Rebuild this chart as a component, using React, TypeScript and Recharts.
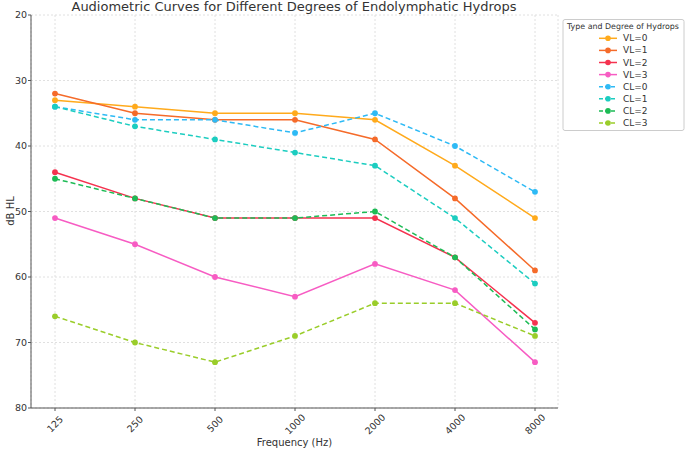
import { LineChart, Line, XAxis, YAxis, CartesianGrid } from "recharts";

const frequencies = ["125", "250", "500", "1000", "2000", "4000", "8000"];
const yTicks = [20, 30, 40, 50, 60, 70, 80];

const vl0 = [33, 34, 35, 35, 36, 43, 51];
const vl1 = [32, 35, 36, 36, 39, 48, 59];
const vl2 = [44, 48, 51, 51, 51, 57, 67];
const vl3 = [51, 55, 60, 63, 58, 62, 73];
const cl0 = [34, 36, 36, 38, 35, 40, 47];
const cl1 = [34, 37, 39, 41, 43, 51, 61];
const cl2 = [45, 48, 51, 51, 50, 57, 68];
const cl3 = [66, 70, 73, 69, 64, 64, 69];

const series = [
  { key: "VL=0", values: vl0, color: "#ffaa1c", dashed: false },
  { key: "VL=1", values: vl1, color: "#f56b2a", dashed: false },
  { key: "VL=2", values: vl2, color: "#f5324f", dashed: false },
  { key: "VL=3", values: vl3, color: "#f75cc3", dashed: false },
  { key: "CL=0", values: cl0, color: "#2ebaf5", dashed: true },
  { key: "CL=1", values: cl1, color: "#1ccdc0", dashed: true },
  { key: "CL=2", values: cl2, color: "#1dbb55", dashed: true },
  { key: "CL=3", values: cl3, color: "#9acd2a", dashed: true },
];

const data = frequencies.map((freq, i) => {
  const row: Record<string, string | number> = { freq };
  series.forEach((s) => {
    row[s.key] = s.values[i];
  });
  return row;
});

const FONT = "'DejaVu Sans', sans-serif";
const TEXT = "#333333";
const AXIS = "#555555";

const XTick = (props: any) => {
  const { x, y, payload } = props;
  const cy = y + 11;
  return (
    <text
      x={x}
      y={cy}
      textAnchor="middle"
      dominantBaseline="central"
      transform={`rotate(-45, ${x}, ${cy})`}
      fontSize={9.5}
      fontFamily={FONT}
      fill={TEXT}
    >
      {payload.value}
    </text>
  );
};

const App = () => {
  return (
    <div style={{ position: "fixed", left: 0, top: 0, width: 685, height: 450, background: "#fff" }}>
      <LineChart
        width={685}
        height={450}
        data={data}
        margin={{ top: 15, right: 127, left: 0, bottom: 0 }}
      >
        <CartesianGrid stroke="#e0e0e0" strokeDasharray="2 2" />
        <XAxis
          dataKey="freq"
          padding={{ left: 24, right: 23 }}
          height={42}
          stroke={AXIS}
          tickSize={3}
          tick={<XTick />}
          interval={0}
          label={{
            value: "Frequency (Hz)",
            position: "insideBottom",
            offset: 4,
            fill: TEXT,
            fontSize: 10,
            fontFamily: FONT,
          }}
        />
        <YAxis
          reversed
          domain={[20, 80]}
          ticks={yTicks}
          allowDataOverflow
          width={31}
          stroke={AXIS}
          tickSize={3}
          tickMargin={1}
          tick={{ fill: TEXT, fontSize: 9.5, fontFamily: FONT }}
          label={{
            content: () => (
              <text
                x={10}
                y={211}
                textAnchor="middle"
                dominantBaseline="central"
                transform="rotate(-90, 10, 211)"
                fontSize={10}
                fontFamily={FONT}
                fill={TEXT}
              >
                dB HL
              </text>
            ),
          }}
        />
        {series.map((s) => (
          <Line
            key={s.key}
            dataKey={s.key}
            stroke={s.color}
            strokeWidth={1.5}
            strokeDasharray={s.dashed ? "5 3" : undefined}
            dot={{ r: 2.9, fill: s.color, stroke: s.color, strokeWidth: 0, strokeDasharray: "" }}
            activeDot={false}
            isAnimationActive={false}
          />
        ))}
      </LineChart>
      <svg
        width={685}
        height={450}
        style={{ position: "absolute", left: 0, top: 0, pointerEvents: "none" }}
      >
        <text
          x={294}
          y={11}
          textAnchor="middle"
          fontSize={13}
          fontFamily={FONT}
          fill={TEXT}
        >
          Audiometric Curves for Different Degrees of Endolymphatic Hydrops
        </text>
        <rect x={563} y={19.5} width={121} height={111} rx={2} fill="#fff" stroke="#cccccc" />
        <text
          x={623}
          y={26}
          textAnchor="middle"
          dominantBaseline="central"
          fontSize={7.9}
          fontFamily={FONT}
          fill={TEXT}
        >
          Type and Degree of Hydrops
        </text>
        {series.map((s, i) => {
          const ry = 38.3 + i * 12.1;
          return (
            <g key={s.key}>
              <line
                x1={599}
                x2={617}
                y1={ry}
                y2={ry}
                stroke={s.color}
                strokeWidth={1.5}
                strokeDasharray={s.dashed ? "4 2" : undefined}
              />
              <circle cx={608} cy={ry} r={2.8} fill={s.color} />
              <text
                x={623}
                y={ry}
                dominantBaseline="central"
                fontSize={9}
                fontFamily={FONT}
                fill={TEXT}
              >
                {s.key}
              </text>
            </g>
          );
        })}
      </svg>
    </div>
  );
};

export default App;
